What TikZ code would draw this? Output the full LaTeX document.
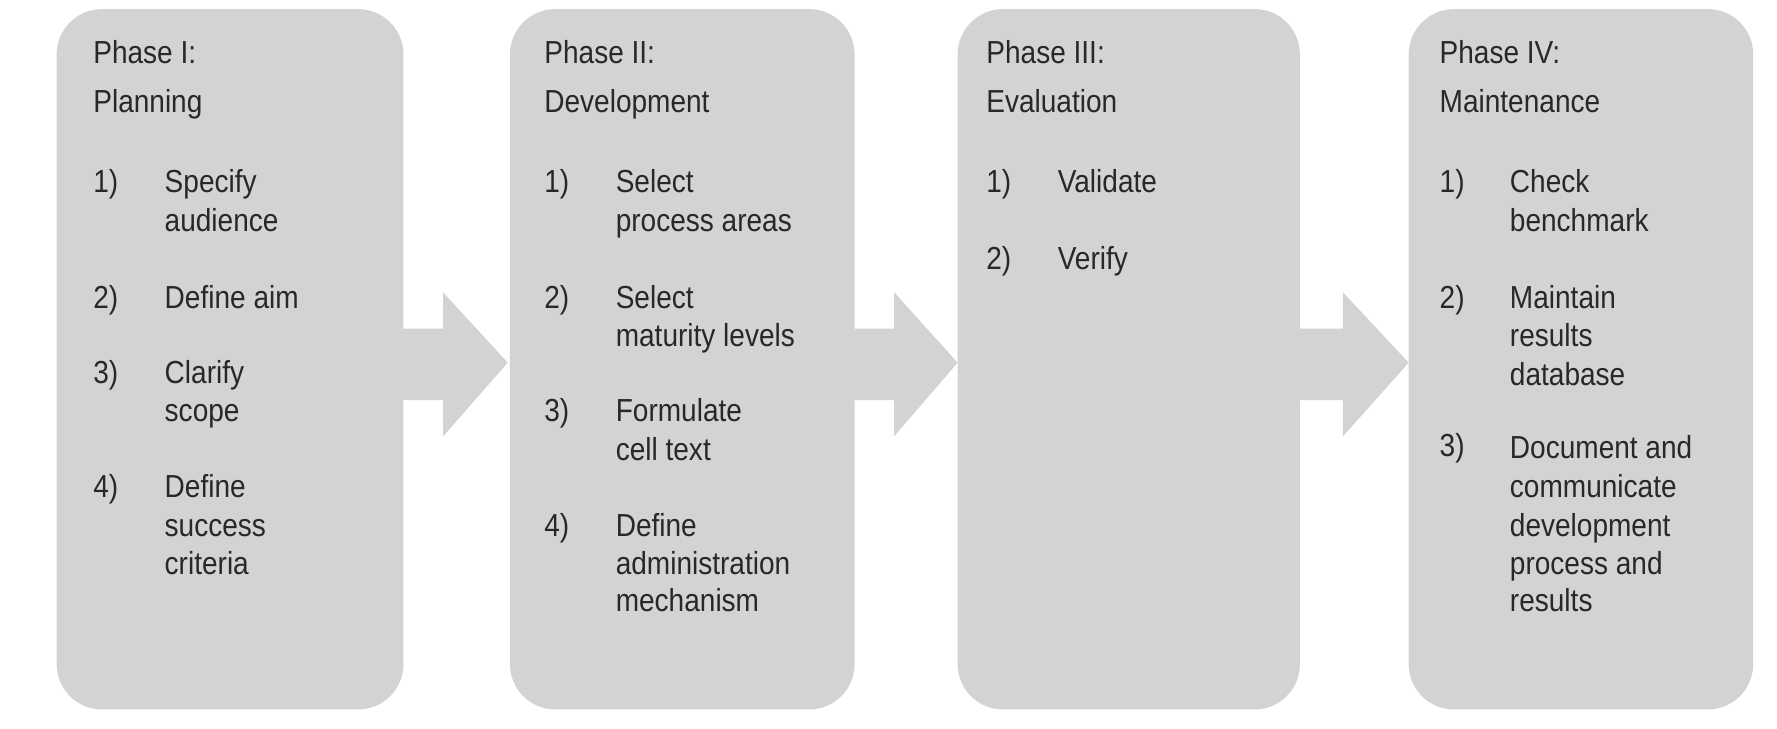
\documentclass[tikz,border=0pt]{standalone}
\usepackage{fontspec}
\setmainfont[FakeStretch=0.88]{Liberation Sans}
\definecolor{boxgray}{RGB}{211,211,211}
\definecolor{txt}{RGB}{40,40,40}
\begin{document}
\begin{tikzpicture}[x=0.02cm,y=-0.02cm,
  phase/.style={fill=boxgray,draw=none,rounded corners=0.8cm},
  arr/.style={fill=boxgray,draw=none},
  tl/.style={anchor=base west,inner sep=0,text=txt,font=\fontsize{16}{19}\selectfont}]
\useasboundingbox (0,0) rectangle (1568,643);
\fill[white] (0,0) rectangle (1568,643);
\path[phase] (50,8) rectangle (356,626);
\path[phase] (450,8) rectangle (754,626);
\path[phase] (845,8) rectangle (1147,626);
\path[phase] (1243,8) rectangle (1547,626);
\path[arr] (355,290) -- (391,290) -- (391,258) -- (448,320) -- (391,385) -- (391,353) -- (355,353) -- cycle;
\path[arr] (753,290) -- (789,290) -- (789,258) -- (845,320) -- (789,385) -- (789,353) -- (753,353) -- cycle;
\path[arr] (1146,290) -- (1185,290) -- (1185,258) -- (1243,320) -- (1185,385) -- (1185,353) -- (1146,353) -- cycle;
% Phase I
\node[tl] (a0) at (82,56) {Phase I:};
\node[tl] (a1) at (82,99) {Planning};
\node[tl] (a2) at (82,170) {1)};
\node[tl] (a3) at (145,170) {Specify};
\node[tl] (a4) at (145,204) {audience};
\node[tl] (a5) at (82,272) {2)};
\node[tl] (a6) at (145,272) {Define aim};
\node[tl] (a7) at (82,338) {3)};
\node[tl] (a8) at (145,338) {Clarify};
\node[tl] (a9) at (145,372) {scope};
\node[tl] (a10) at (82,439) {4)};
\node[tl] (a11) at (145,439) {Define};
\node[tl] (a12) at (145,473) {success};
\node[tl] (a13) at (145,507) {criteria};
% Phase II
\node[tl] (b0) at (480,56) {Phase II:};
\node[tl] (b1) at (480,99) {Development};
\node[tl] (b2) at (480,170) {1)};
\node[tl] (b3) at (543,170) {Select};
\node[tl] (b4) at (543,204) {process areas};
\node[tl] (b5) at (480,272) {2)};
\node[tl] (b6) at (543,272) {Select};
\node[tl] (b7) at (543,306) {maturity levels};
\node[tl] (b8) at (480,372) {3)};
\node[tl] (b9) at (543,372) {Formulate};
\node[tl] (b10) at (543,406) {cell text};
\node[tl] (b11) at (480,473) {4)};
\node[tl] (b12) at (543,473) {Define};
\node[tl] (b13) at (543,507) {administration};
\node[tl] (b14) at (543,540) {mechanism};
% Phase III
\node[tl] (c0) at (870,56) {Phase III:};
\node[tl] (c1) at (870,99) {Evaluation};
\node[tl] (c2) at (870,170) {1)};
\node[tl] (c3) at (933,170) {Validate};
\node[tl] (c4) at (870,238) {2)};
\node[tl] (c5) at (933,238) {Verify};
% Phase IV
\node[tl] (d0) at (1270,56) {Phase IV:};
\node[tl] (d1) at (1270,99) {Maintenance};
\node[tl] (d2) at (1270,170) {1)};
\node[tl] (d3) at (1332,170) {Check};
\node[tl] (d4) at (1332,204) {benchmark};
\node[tl] (d5) at (1270,272) {2)};
\node[tl] (d6) at (1332,272) {Maintain};
\node[tl] (d7) at (1332,306) {results};
\node[tl] (d8) at (1332,340) {database};
\node[tl] (d9) at (1270,403) {3)};
\node[tl] (d10) at (1332,405) {Document and};
\node[tl] (d11) at (1332,439) {communicate};
\node[tl] (d12) at (1332,473) {development};
\node[tl] (d13) at (1332,507) {process and};
\node[tl] (d14) at (1332,540) {results};
\end{tikzpicture}
\end{document}
